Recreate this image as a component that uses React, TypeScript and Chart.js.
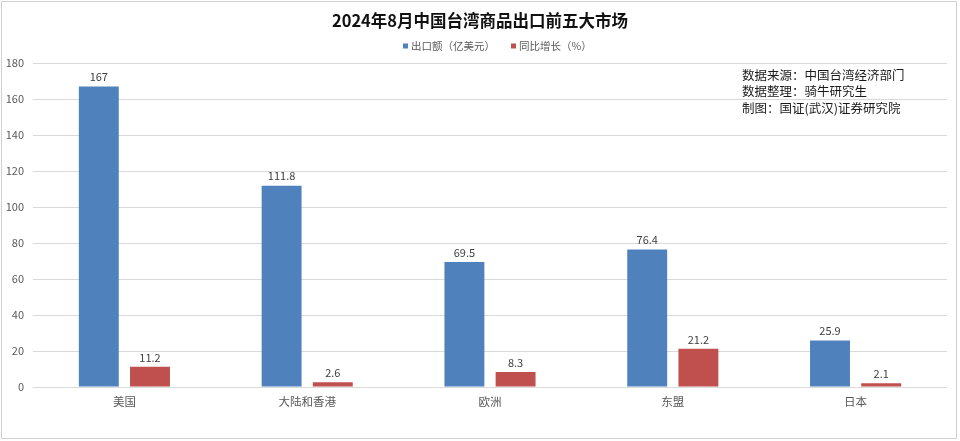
import React, { useEffect, useRef } from "react";
import { Chart, registerables } from "chart.js";

Chart.register(...registerables);

const title = "2024年8月中国台湾商品出口前五大市场";
const markets = ["美国", "大陆和香港", "欧洲", "东盟", "日本"];
const exportValues = [167, 111.8, 69.5, 76.4, 25.9];
const yoyGrowth = [11.2, 2.6, 8.3, 21.2, 2.1];
const seriesNames = ["出口额（亿美元）", "同比增长（%）"];
const seriesColors = ["#4F81BD", "#C0504D"];
const notes = ["数据来源：中国台湾经济部门", "数据整理：骑牛研究生", "制图：国证(武汉)证券研究院"];

const FONT = '"Noto Sans CJK SC", "Noto Sans", sans-serif';

const decorPlugin = {
  id: "decor",
  afterDatasetsDraw(chart: any) {
    const ctx = chart.ctx;
    ctx.save();
    // value labels above each bar
    ctx.font = `11px ${FONT}`;
    ctx.fillStyle = "#404040";
    ctx.textAlign = "center";
    ctx.textBaseline = "bottom";
    chart.data.datasets.forEach((ds: any, i: number) => {
      const meta = chart.getDatasetMeta(i);
      meta.data.forEach((el: any, j: number) => {
        ctx.fillText(String(ds.data[j]), el.x, el.y - 4);
      });
    });
    ctx.restore();
  },
  afterDraw(chart: any) {
    const ctx = chart.ctx;
    const w = chart.width;
    ctx.save();
    // title
    ctx.font = `bold 16.5px ${FONT}`;
    ctx.fillStyle = "#111111";
    ctx.textAlign = "center";
    ctx.textBaseline = "middle";
    ctx.fillText(title, w / 2, 21);

    // legend
    ctx.font = `10.5px ${FONT}`;
    ctx.textAlign = "left";
    const box = 5;
    const gapBox = 3;
    const gapItem = 16;
    let x = 403;
    const ly = 46;
    seriesNames.forEach((n, i) => {
      ctx.fillStyle = seriesColors[i];
      ctx.fillRect(x, ly - box / 2, box, box);
      ctx.fillStyle = "#595959";
      ctx.fillText(n, x + box + gapBox, ly);
      x += box + gapBox + ctx.measureText(n).width + gapItem;
    });

    // source notes
    ctx.font = `12.5px ${FONT}`;
    ctx.fillStyle = "#1a1a1a";
    notes.forEach((t, i) => {
      ctx.fillText(t, 742, 75 + i * 16.5);
    });
    ctx.restore();
  },
};

export default function App() {
  const ref = useRef<HTMLCanvasElement>(null);

  useEffect(() => {
    if (!ref.current) return;
    const chart = new Chart(ref.current, {
      type: "bar",
      data: {
        labels: markets,
        datasets: [
          { label: seriesNames[0], data: exportValues, backgroundColor: seriesColors[0] },
          { label: seriesNames[1], data: yoyGrowth, backgroundColor: seriesColors[1] },
        ],
      },
      options: {
        animation: false,
        responsive: false,
        maintainAspectRatio: false,
        layout: { padding: { top: 63, right: 13, left: 0, bottom: 0 } },
        plugins: {
          legend: { display: false },
          title: { display: false },
          tooltip: { enabled: false },
        },
        datasets: {
          bar: { categoryPercentage: 0.56, barPercentage: 0.78 },
        },
        scales: {
          x: {
            grid: { display: false },
            border: { display: false },
            ticks: { color: "#595959", font: { family: FONT, size: 11.5 }, padding: 0 },
            afterFit: (s: any) => {
              s.height = 54;
            },
          },
          y: {
            min: 0,
            max: 180,
            ticks: { stepSize: 20, color: "#595959", font: { family: FONT, size: 11 }, padding: 9 },
            grid: { color: "#d9d9d9", drawTicks: false },
            border: { display: false },
            afterFit: (s: any) => {
              s.width = 33;
            },
          },
        },
      },
      plugins: [decorPlugin],
    });
    return () => chart.destroy();
  }, []);

  return (
    <div style={{ position: "fixed", left: 0, top: 0, width: 960, height: 441, background: "#fff" }}>
      <canvas ref={ref} width={960} height={441} style={{ display: "block" }} />
      <div
        style={{
          position: "absolute",
          left: 1,
          top: 1,
          width: 956,
          height: 438,
          border: "1px solid #d0d0d0",
          boxSizing: "border-box",
          pointerEvents: "none",
        }}
      />
    </div>
  );
}
